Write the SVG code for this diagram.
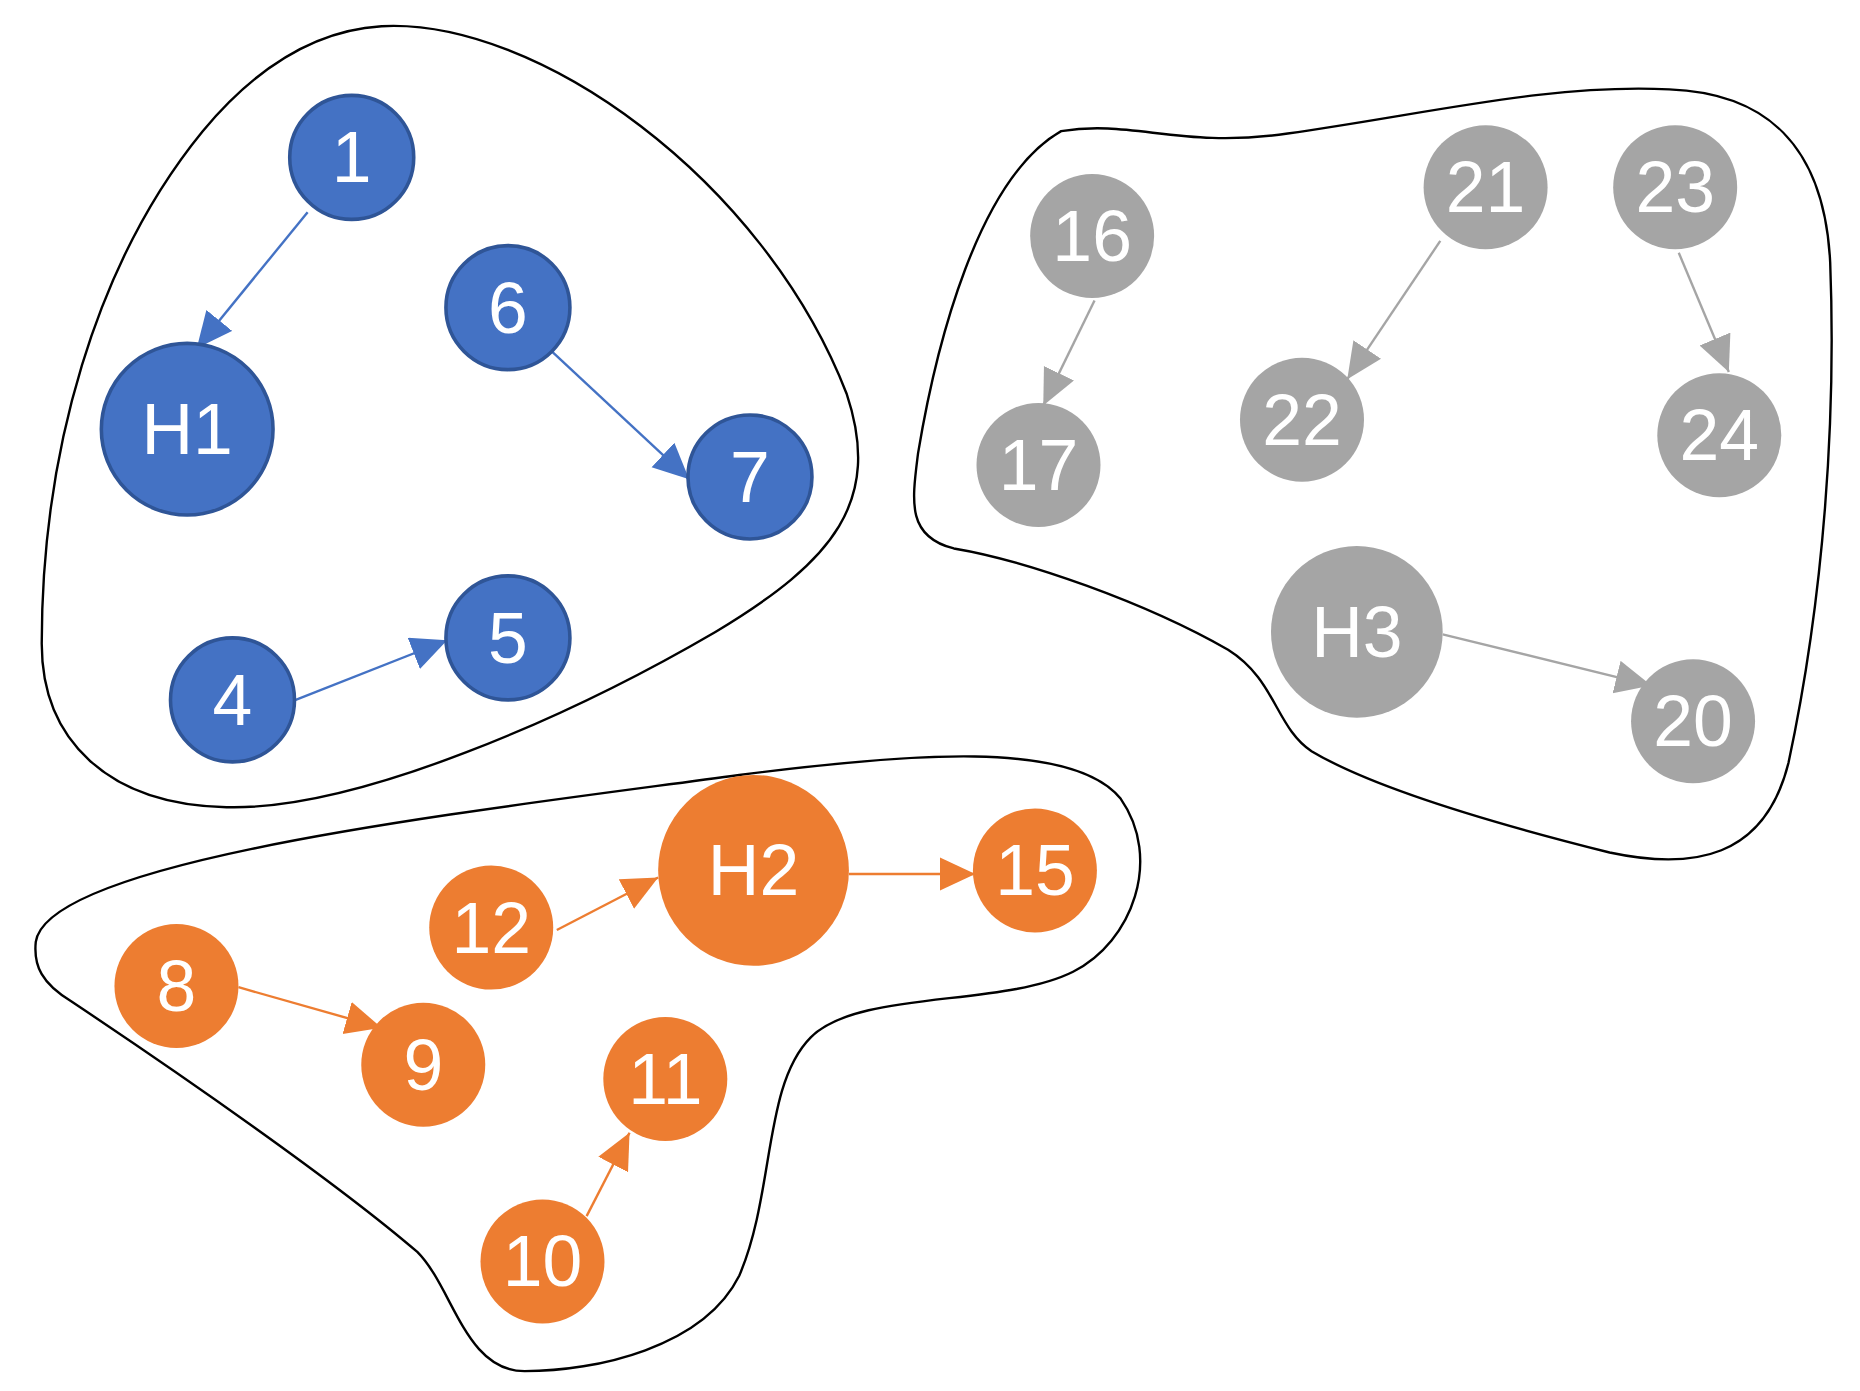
<svg xmlns="http://www.w3.org/2000/svg" width="1860" height="1391" viewBox="0 0 1860 1391">
<style>
.blob{fill:none;stroke:#000;stroke-width:2}
.b circle{fill:#4472c4;stroke:#2f5597;stroke-width:3}
.o circle{fill:#ed7d31}
.g circle{fill:#a5a5a5}
text{fill:#fff;font-family:"Liberation Sans",Arial,sans-serif;font-size:60px;text-anchor:middle;dominant-baseline:central}
.eb{stroke:#4472c4;stroke-width:2;marker-end:url(#ab)}
.eo{stroke:#ed7d31;stroke-width:2;marker-end:url(#ao)}
.eg{stroke:#a5a5a5;stroke-width:2;marker-end:url(#ag)}
</style>
<defs>
<marker id="ab" markerUnits="userSpaceOnUse" markerWidth="32" markerHeight="30" refX="30" refY="14" orient="auto"><path d="M0,0L30,14L0,28z" fill="#4472c4"/></marker>
<marker id="ao" markerUnits="userSpaceOnUse" markerWidth="32" markerHeight="30" refX="30" refY="14" orient="auto"><path d="M0,0L30,14L0,28z" fill="#ed7d31"/></marker>
<marker id="ag" markerUnits="userSpaceOnUse" markerWidth="32" markerHeight="30" refX="30" refY="14" orient="auto"><path d="M0,0L30,14L0,28z" fill="#a5a5a5"/></marker>
</defs>
<g transform="scale(1.1923)">
<g id="blobs">
<path class="blob" d="M320,22C450,15 640,150 710,330C740,420 700,470 600,530C480,600 300,680 190,677C90,675 35,620 35,540C35,380 80,220 170,110C220,50 270,25 320,22Z"/>
<path class="blob" d="M890,110C950,100 990,125 1080,112C1200,95 1300,70 1400,75C1480,78 1530,120 1535,220C1540,350 1530,500 1500,640C1480,720 1420,730 1350,715C1250,690 1150,660 1100,630C1070,610 1070,570 1030,545C960,505 860,470 800,460C760,450 765,420 770,380C785,290 820,150 890,110Z"/>
<path class="blob" d="M30,790C40,720 400,680 620,650C760,632 900,620 940,670C975,720 950,790 900,815C840,845 720,830 680,870C640,910 650,1000 620,1070C590,1130 500,1150 440,1150C390,1150 380,1080 350,1050C280,990 150,900 60,840C35,825 28,810 30,790Z"/>
</g>
<g id="edges">
<line class="eb" x1="258" y1="178" x2="165" y2="292"/>
<line class="eb" x1="463" y1="295" x2="578" y2="402"/>
<line class="eb" x1="248" y1="587" x2="375" y2="537"/>
<line class="eg" x1="1208" y1="202" x2="1130" y2="318"/>
<line class="eg" x1="918" y1="252" x2="875" y2="340"/>
<line class="eg" x1="1408" y1="212" x2="1450" y2="312"/>
<line class="eg" x1="1210" y1="532" x2="1385" y2="575"/>
<line class="eo" x1="200" y1="828" x2="320" y2="862"/>
<line class="eo" x1="467" y1="780" x2="552" y2="736"/>
<line class="eo" x1="712" y1="733" x2="818" y2="733"/>
<line class="eo" x1="492" y1="1020" x2="528" y2="950"/>
</g>
<g id="n1" class="b"><circle cx="295" cy="132" r="52"/><text x="295" y="132">1</text></g>
<g id="nH1" class="b"><circle cx="157" cy="360" r="72"/><text x="157" y="360">H1</text></g>
<g id="n6" class="b"><circle cx="426" cy="258" r="52"/><text x="426" y="258">6</text></g>
<g id="n7" class="b"><circle cx="629" cy="400" r="52"/><text x="629" y="400">7</text></g>
<g id="n5" class="b"><circle cx="426" cy="535" r="52"/><text x="426" y="535">5</text></g>
<g id="n4" class="b"><circle cx="195" cy="587" r="52"/><text x="195" y="587">4</text></g>
<g id="n16" class="g"><circle cx="916" cy="198" r="52"/><text x="916" y="198">16</text></g>
<g id="n17" class="g"><circle cx="871" cy="390" r="52"/><text x="871" y="390">17</text></g>
<g id="n21" class="g"><circle cx="1246" cy="157" r="52"/><text x="1246" y="157">21</text></g>
<g id="n22" class="g"><circle cx="1092" cy="352" r="52"/><text x="1092" y="352">22</text></g>
<g id="n23" class="g"><circle cx="1405" cy="157" r="52"/><text x="1405" y="157">23</text></g>
<g id="n24" class="g"><circle cx="1442" cy="365" r="52"/><text x="1442" y="365">24</text></g>
<g id="nH3" class="g"><circle cx="1138" cy="530" r="72"/><text x="1138" y="530">H3</text></g>
<g id="n20" class="g"><circle cx="1420" cy="605" r="52"/><text x="1420" y="605">20</text></g>
<g id="n8" class="o"><circle cx="148" cy="827" r="52"/><text x="148" y="827">8</text></g>
<g id="n9" class="o"><circle cx="355" cy="893" r="52"/><text x="355" y="893">9</text></g>
<g id="n12" class="o"><circle cx="412" cy="778" r="52"/><text x="412" y="778">12</text></g>
<g id="nH2" class="o"><circle cx="632" cy="730" r="80"/><text x="632" y="730">H2</text></g>
<g id="n15" class="o"><circle cx="868" cy="730" r="52"/><text x="868" y="730">15</text></g>
<g id="n11" class="o"><circle cx="558" cy="905" r="52"/><text x="558" y="905">11</text></g>
<g id="n10" class="o"><circle cx="455" cy="1058" r="52"/><text x="455" y="1058">10</text></g>
</g>
</svg>
